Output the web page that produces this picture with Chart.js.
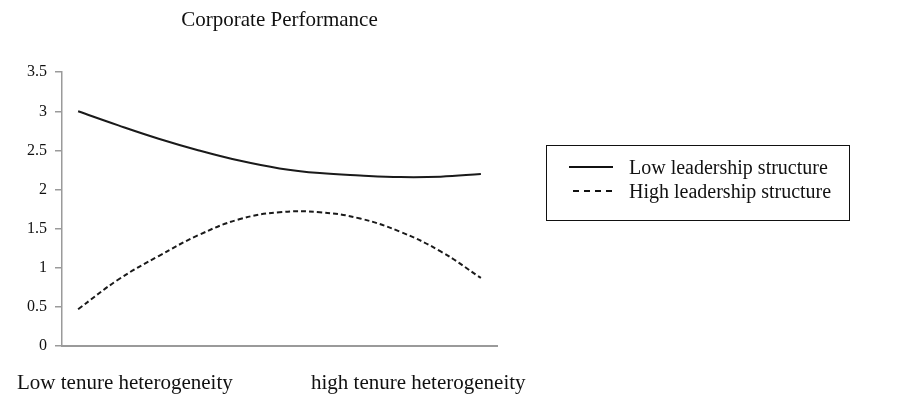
<!DOCTYPE html>
<html>
<head>
<meta charset="utf-8">
<script src="https://cdn.jsdelivr.net/npm/chart.js@4/dist/chart.umd.min.js"></script>
<style>
  html, body { margin: 0; padding: 0; background: #fff; }
  body { width: 903px; height: 406px; position: relative; overflow: hidden; font-family: "Liberation Serif", "Times New Roman", serif; color: #111; }
  #wrap { position: absolute; left: 0; top: 0; width: 903px; height: 406px; }
  .axis-note { position: absolute; font-size: 21px; line-height: 24px; white-space: nowrap; }
  #legend { position: absolute; left: 546px; top: 145px; width: 302px; height: 74px; border: 1.5px solid #111; box-sizing: content-box; }
  .leg-row { position: absolute; left: 0; height: 24px; font-size: 20px; line-height: 24px; white-space: nowrap; }
  .leg-row svg { position: absolute; top: 0; }
  .leg-row span { position: absolute; left: 82px; }
</style>
</head>
<body>
<div id="wrap"><canvas id="chart" width="903" height="406"></canvas></div>

<div class="axis-note" id="note-low" style="left:17px; top:370px;"></div>
<div class="axis-note" id="note-high" style="left:311px; top:370px;"></div>

<div id="legend">
  <div class="leg-row" style="top:9px; width:300px;">
    <svg width="80" height="24"><line x1="22" y1="12" x2="66" y2="12" stroke="#111" stroke-width="2"/></svg>
    <span id="leg-0"></span>
  </div>
  <div class="leg-row" style="top:33px; width:300px;">
    <svg width="80" height="24"><line x1="26" y1="12" x2="66" y2="12" stroke="#111" stroke-width="2" stroke-dasharray="6,5"/></svg>
    <span id="leg-1"></span>
  </div>
</div>

<script>
// chart data
const chartTitle = 'Corporate Performance';
const axisNotes = ['Low tenure heterogeneity', 'high tenure heterogeneity'];
const seriesNames = ['Low leadership structure', 'High leadership structure'];
const xSteps = [0, 1, 2, 3, 4, 5, 6, 7, 8, 9, 10];
const lowLeadership = [3.0, 2.82, 2.65, 2.50, 2.37, 2.27, 2.21, 2.18, 2.16, 2.165, 2.2];
const highLeadership = [0.47, 0.85, 1.15, 1.42, 1.62, 1.71, 1.71, 1.63, 1.46, 1.21, 0.87];
const yTicks = [0, 0.5, 1, 1.5, 2, 2.5, 3, 3.5];

document.getElementById('note-low').textContent = axisNotes[0];
document.getElementById('note-high').textContent = axisNotes[1];
document.getElementById('leg-0').textContent = seriesNames[0];
document.getElementById('leg-1').textContent = seriesNames[1];

const serif = '"Liberation Serif", "Times New Roman", serif';
const toPoints = vals => vals.map((v, i) => ({ x: xSteps[i], y: v }));

new Chart(document.getElementById('chart'), {
  type: 'line',
  data: {
    datasets: [{
      label: seriesNames[0],
      data: toPoints(lowLeadership),
      borderColor: '#1a1a1a',
      borderWidth: 2,
      pointRadius: 0,
      tension: 0.4,
      fill: false
    }, {
      label: seriesNames[1],
      data: toPoints(highLeadership),
      borderColor: '#1a1a1a',
      borderWidth: 2,
      borderDash: [5, 3],
      pointRadius: 0,
      tension: 0.4,
      fill: false
    }]
  },
  options: {
    responsive: false,
    animation: false,
    layout: { padding: { left: 0, right: 406, top: 0, bottom: 52 } },
    plugins: {
      legend: { display: false },
      tooltip: { enabled: false },
      title: {
        display: true,
        text: chartTitle,
        fullSize: false,
        color: '#111',
        font: { family: serif, size: 21, weight: 'normal' },
        padding: { top: 8, bottom: 39 }
      }
    },
    scales: {
      x: {
        type: 'linear',
        min: -0.4,
        max: 10.4,
        ticks: { display: false },
        grid: { display: false },
        border: { display: true, color: '#9a9a9a', width: 2 }
      },
      y: {
        min: 0,
        max: 3.5,
        afterFit: scale => { scale.width = 62; },
        afterBuildTicks: scale => { scale.ticks = yTicks.map(v => ({ value: v })); },
        ticks: {
          color: '#111',
          padding: 8,
          font: { family: serif, size: 16 },
          callback: v => String(v)
        },
        grid: { drawOnChartArea: false, tickLength: 7, color: '#9a9a9a', lineWidth: 1.5 },
        border: { display: true, color: '#9a9a9a', width: 1.5 }
      }
    }
  }
});
</script>
</body>
</html>
